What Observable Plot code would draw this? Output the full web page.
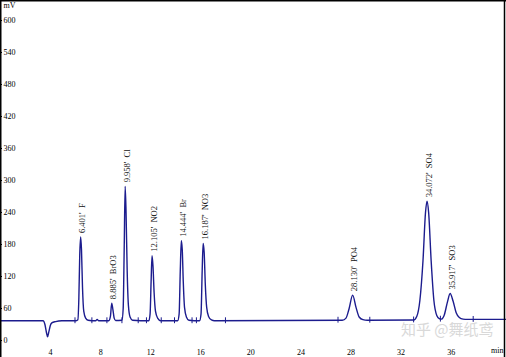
<!DOCTYPE html>
<html><head><meta charset="utf-8">
<script src="https://cdn.jsdelivr.net/npm/d3@7"></script>
<script src="https://cdn.jsdelivr.net/npm/@observablehq/plot@0.6"></script>
<style>html,body{margin:0;padding:0;background:#fff;overflow:hidden}</style>
</head><body><div id="chart"></div>
<script>
// Chromatogram trace: retention time (min) and signal (mV)
const traceTime = [0.05, 3.40, 3.55, 3.68, 3.76, 3.86, 3.98, 4.10, 4.40, 4.90,
  6.00, 6.18, 6.26, 6.33, 6.401, 6.47, 6.55, 6.65, 6.80, 7.00,
  7.60, 7.72, 7.85,
  8.65, 8.78, 8.885, 8.98, 9.08, 9.20,
  9.70, 9.80, 9.88, 9.958, 10.03, 10.12, 10.22, 10.35, 10.55,
  11.85, 11.95, 12.03, 12.105, 12.18, 12.27, 12.38, 12.55, 12.80,
  14.15, 14.27, 14.36, 14.444, 14.52, 14.60, 14.70, 14.85, 15.05,
  15.90, 16.02, 16.11, 16.187, 16.27, 16.36, 16.47, 16.62, 16.85, 17.10,
  27.30, 27.60, 27.85, 28.13, 28.40, 28.65, 28.95, 29.30,
  33.00, 33.25, 33.50, 33.75, 33.95, 34.072, 34.20, 34.40, 34.62, 34.85, 35.05, 35.20,
  35.45, 35.70, 35.917, 36.15, 36.40, 36.65, 36.95, 37.30, 40.40];
const traceMV = [37, 37, 30, 14, 7, 16, 28, 33, 35.5, 37,
  37, 39, 80, 160, 194, 170, 100, 55, 42, 38,
  37, 39.5, 37,
  37, 45, 70, 58, 42, 37.5,
  38, 60, 170, 289, 240, 130, 65, 44, 38,
  37, 50, 110, 159, 140, 90, 55, 42, 37,
  37, 50, 130, 187, 170, 110, 62, 44, 38,
  37, 50, 130, 182, 165, 105, 62, 45, 38.5, 37,
  38, 42, 60, 85, 62, 44, 39, 38,
  38.5, 45, 75, 150, 240, 261, 240, 150, 75, 47, 41, 40,
  48, 72, 88, 74, 52, 43, 40, 39.5, 39.5];

// Peaks
const peakTimes = [6.401, 8.885, 9.958, 12.105, 14.444, 16.187, 28.130, 34.072, 35.917];
const peakNames = ["F", "BrO3", "Cl", "NO2", "Br", "NO3", "PO4", "SO4", "SO3"];
const peakHeights = [194, 70, 289, 159, 187, 182, 85, 261, 88];

// Integration markers on the baseline
const markerTimes = [5.95, 7.3, 8.5, 9.7, 11.0, 11.66, 12.84, 13.9, 15.3, 15.65, 17.97, 26.96, 29.5, 33.0, 35.14, 37.76];
const markerLevels = [37, 37, 37, 37, 37, 37, 37, 37, 37, 37, 37, 38, 38, 38.5, 40, 39.5];

// Axis ticks
const yTicks = [0, 60, 120, 180, 240, 300, 360, 420, 480, 540, 600];
const xTicks = [4, 8, 12, 16, 20, 24, 28, 32, 36];

const trace = traceTime.map((t, i) => ({t, v: traceMV[i]}));
const peaks = peakTimes.map((t, i) => ({t, v: peakHeights[i], label: `${t.toFixed(3)}' \u00a0${peakNames[i]}`}));
const markers = markerTimes.map((t, i) => ({t, lo: markerLevels[i] - 5.5, hi: markerLevels[i] + 5.5}));

const navy = "#1c1c8e";
const chart = Plot.plot({
  width: 506,
  height: 357,
  margin: 0,
  x: {domain: [0, 40.42]},
  y: {domain: [-31.9, 637.5]},
  style: {fontFamily: "'Liberation Serif', 'DejaVu Serif', serif", background: "#fff", color: "#000"},
  marks: [
    Plot.text(["知乎 @舞纸鸢"], {frameAnchor: "bottom-right", textAnchor: "end", dx: -13, dy: -23,
      fontFamily: "'Noto Sans CJK SC', sans-serif", fontSize: 15, fill: "#d9d9d9"}),
    Plot.axisY(yTicks, {anchor: "left", tickSize: -2, tickPadding: -1, textAnchor: "start", fontSize: 8, label: null, stroke: "#000"}),
    Plot.axisX(xTicks, {anchor: "bottom", tickSize: 0, tickPadding: -8, fontSize: 8, label: null}),
    Plot.ruleX(markers, {x: "t", y1: "lo", y2: "hi", stroke: navy, strokeWidth: 1}),
    Plot.line(trace, {x: "t", y: "v", stroke: navy, strokeWidth: 1.4, curve: "monotone-x"}),
    Plot.text(peaks, {x: "t", y: "v", text: "label", rotate: -90, textAnchor: "start", dx: 2, dy: -4, fontSize: 8.5, fill: "#111"}),
    Plot.text(["mV"], {frameAnchor: "top-left", dx: 3, dy: 2, textAnchor: "start", lineAnchor: "top", fontSize: 8}),
    Plot.text(["min"], {frameAnchor: "bottom-right", dx: -3, dy: -5, textAnchor: "end", lineAnchor: "bottom", fontSize: 8}),
    Plot.frame({anchor: "left", strokeWidth: 2, stroke: "#000"}),
    Plot.frame({anchor: "top", strokeWidth: 2, stroke: "#000"}),
    Plot.frame({anchor: "right", insetRight: 2, strokeWidth: 1.5, stroke: "#000"})
  ]
});
document.getElementById("chart").appendChild(chart);
</script>
</body></html>
